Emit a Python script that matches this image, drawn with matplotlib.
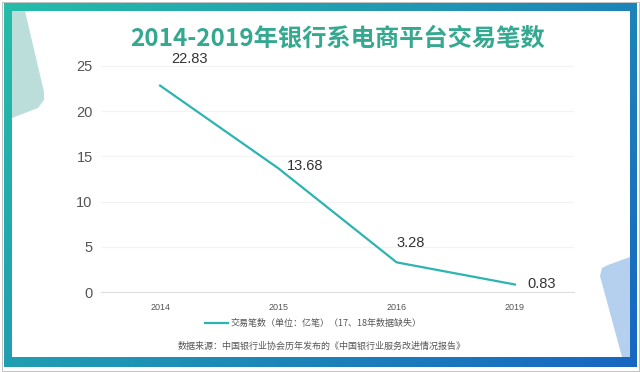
import numpy as np
import matplotlib.pyplot as plt
from matplotlib.patches import Rectangle, Polygon

plt.rcParams['font.family'] = ['Noto Sans CJK SC', 'DejaVu Sans']

# data
years = ['2014', '2015', '2016', '2019']
counts = [22.83, 13.68, 3.28, 0.83]
yticks = [0, 5, 10, 15, 20, 25]
title = '2014-2019年银行系电商平台交易笔数'
legend_label = '交易笔数（单位：亿笔）（17、18年数据缺失）'
source = '数据来源：中国银行业协会历年发布的《中国银行业服务改进情况报告》'

# label offsets in points (x, y) relative to each point
label_offsets = [(8, 19), (6, 2), (0, 14), (9, 0)]
num_font = ['Liberation Sans', 'DejaVu Sans']

W, H = 640, 372
fig = plt.figure(figsize=(W / 100, H / 100), dpi=100)
fig.patch.set_facecolor('white')

# background frame with gradient border
bg = fig.add_axes([0, 0, 1, 1])
bg.set_xlim(0, W)
bg.set_ylim(H, 0)
bg.axis('off')
xx, yy = np.meshgrid(np.linspace(0, 1, 200), np.linspace(0, 1, 120))
t = xx * 0.65 + yy * 0.35
c0 = np.array([0.15, 0.74, 0.66])
c1 = np.array([0.09, 0.40, 0.76])
grad = c0[None, None, :] * (1 - t[..., None]) + c1[None, None, :] * t[..., None]
bg.imshow(grad, extent=(4, 637, 367, 3), aspect='auto', zorder=1)
bg.add_patch(Rectangle((1.5, 1.5), 637, 369, fill=False, ec='#b8b8b8', lw=0.6, zorder=0))
bg.add_patch(Rectangle((12, 11), 618, 346, fc='white', ec='none', zorder=2))
# decorative shapes
bg.add_patch(Polygon([(12, 11), (25, 11), (44, 92), (44, 100), (38, 108), (12, 118)],
                     closed=True, fc='#bcdedb', ec='none', zorder=3))
bg.add_patch(Polygon([(600, 276), (602, 268), (608, 265), (630, 257), (630, 357),
                      (622, 357)], closed=True, fc='#b5cfef', ec='none', zorder=3))

# title
fig.text(0.527, 0.895, title, ha='center', va='center', fontsize=17.5,
         fontweight='bold', color='#35a890')

# main chart
ax = fig.add_axes([101 / W, 1 - 292 / H, 473 / W, 226 / H])
ax.set_facecolor('none')
x = np.arange(len(years))
ax.plot(x, counts, color='#2cb5b0', lw=1.6, zorder=3)
for xi, v, off in zip(x, counts, label_offsets):
    ax.annotate(f'{v:.2f}', (xi, v), xytext=off, textcoords='offset points',
                fontsize=10.5, color='#333333', ha='left', va='center',
                family=num_font)
ax.set_xlim(-0.5, 3.5)
ax.set_ylim(0, 25)
ax.set_xticks(x)
ax.set_xticklabels(years, fontsize=6.5, color='#555555', family=num_font)
ax.set_yticks(yticks)
ax.set_yticklabels([str(v) for v in yticks], fontsize=10.5, color='#555555',
                   family=num_font)
ax.tick_params(length=0, pad=6)
ax.tick_params(axis='x', pad=8)
ax.grid(axis='y', color='#f3f3f3', lw=0.8)
for s in ['top', 'right', 'left']:
    ax.spines[s].set_visible(False)
ax.spines['bottom'].set_color('#dddddd')
ax.spines['bottom'].set_linewidth(0.8)

# legend
fig.add_artist(plt.Line2D([205 / W, 228 / W], [1 - 323 / H, 1 - 323 / H],
                          color='#2cb5b0', lw=1.6))
fig.text(231 / W, 1 - 323 / H, legend_label, fontsize=6.5, color='#555555',
         ha='left', va='center')
fig.text(178 / W, 1 - 346 / H, source, fontsize=6.5, color='#555555',
         ha='left', va='center')

fig.savefig('out.png', dpi=100)
